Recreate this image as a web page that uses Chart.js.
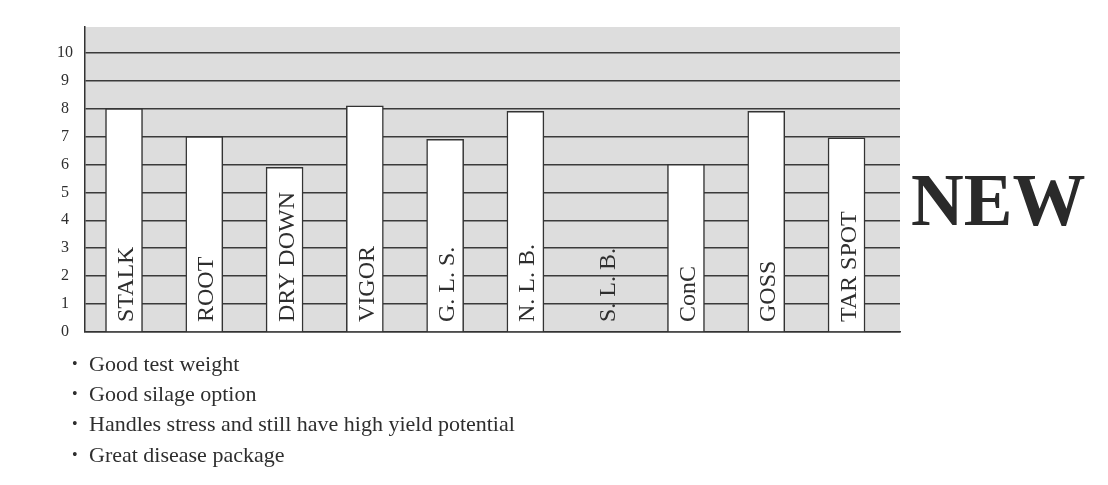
<!DOCTYPE html>
<html>
<head>
<meta charset="utf-8">
<script src="https://cdn.jsdelivr.net/npm/chart.js@4"></script>
<style>
  html, body { margin: 0; padding: 0; background: #ffffff; }
  #wrap { position: relative; width: 1108px; height: 485px; overflow: hidden; }
  #c { position: absolute; left: 0; top: 0; }
  .bul { position: absolute; left: 72px; font-family: "Liberation Serif", serif; font-size: 22px; color: #2e2e2e; white-space: nowrap; line-height: 1; }
  .bul span { display: inline-block; width: 17px; font-size: 16px; vertical-align: 2px; }
  #new { position: absolute; left: 911px; top: 164px; font-family: "Liberation Serif", serif; font-weight: bold; font-size: 73px; color: #2a2a2a; line-height: 1; }
</style>
</head>
<body>
<div id="wrap">
  <canvas id="c" width="1108" height="485"></canvas>
  <div id="new">NEW</div>
  <div class="bul" style="top:353px"><span>•</span>Good test weight</div>
  <div class="bul" style="top:383px"><span>•</span>Good silage option</div>
  <div class="bul" style="top:413px"><span>•</span>Handles stress and still have high yield potential</div>
  <div class="bul" style="top:444px"><span>•</span>Great disease package</div>
</div>
<script>
const categories = ["STALK", "ROOT", "DRY DOWN", "VIGOR", "G. L. S.", "N. L. B.", "S. L. B.", "ConC", "GOSS", "TAR SPOT"];
const ratings = [8, 7, 5.9, 8.1, 6.9, 7.9, null, 6, 7.9, 6.95];
const yTicks = [0, 1, 2, 3, 4, 5, 6, 7, 8, 9, 10];

const points = categories.map((c, i) => ({ x: i, y: ratings[i] }));

const bgPlugin = {
  id: 'bg',
  beforeDraw(chart) {
    const { ctx, chartArea: a } = chart;
    ctx.save();
    ctx.fillStyle = '#dddddd';
    ctx.fillRect(a.left, a.top, a.right - a.left, a.bottom - a.top);
    ctx.restore();
  }
};

const labelPlugin = {
  id: 'barLabels',
  afterDatasetsDraw(chart) {
    const { ctx } = chart;
    const xs = chart.scales.x, ys = chart.scales.y;
    const fs = 24;
    ctx.save();
    ctx.font = fs + 'px "Liberation Serif", serif';
    ctx.fillStyle = '#2e2e2e';
    ctx.textAlign = 'left';
    ctx.textBaseline = 'alphabetic';
    categories.forEach((c, i) => {
      const cx = xs.getPixelForValue(i);
      const by = ys.getPixelForValue(0) - 10;
      ctx.save();
      ctx.translate(cx + 9, by);
      ctx.rotate(-Math.PI / 2);
      ctx.fillText(c, 0, 0);
      ctx.restore();
    });
    ctx.restore();
  }
};

new Chart(document.getElementById('c'), {
  type: 'bar',
  data: {
    datasets: [{
      data: points,
      backgroundColor: '#ffffff',
      borderColor: '#333333',
      borderWidth: 1.5,
      borderSkipped: 'bottom',
      barThickness: 37
    }]
  },
  options: {
    responsive: false,
    animation: false,
    events: [],
    layout: { padding: { left: 0, top: 27, right: 208, bottom: 153 } },
    plugins: { legend: { display: false }, tooltip: { enabled: false } },
    scales: {
      x: {
        type: 'linear',
        offset: false,
        min: -0.486,
        max: 9.666,
        grid: { display: false, drawTicks: false },
        border: { display: true, color: '#333333', width: 1.5 },
        ticks: { display: false },
        afterFit(s) { s.height = 0; }
      },
      y: {
        min: 0,
        max: 10.92,
        afterBuildTicks(s) { s.ticks = yTicks.map(v => ({ value: v })); },
        grid: { color: '#3a3a3a', lineWidth: 1.5, drawTicks: false },
        border: { display: true, color: '#333333', width: 1.5 },
        ticks: {
          padding: 12,
          crossAlign: 'center',
          color: '#2e2e2e',
          font: { family: '"Liberation Serif", serif', size: 16 }
        },
        afterFit(s) { s.width = 85; }
      }
    }
  },
  plugins: [bgPlugin, labelPlugin]
});
</script>
</body>
</html>
